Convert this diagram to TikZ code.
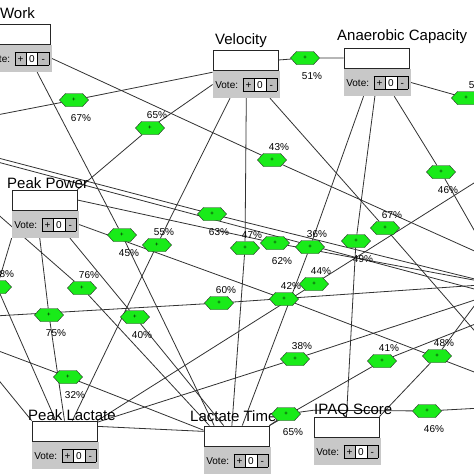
\documentclass[tikz,border=0pt]{standalone}
\usepackage{fontspec}
\setmainfont{Liberation Sans}
\usepackage{tikz}
\usetikzlibrary{positioning, shapes.symbols, backgrounds}
\definecolor{panelgray}{RGB}{200, 200, 200}
\definecolor{btngray}{RGB}{188, 188, 188}
\definecolor{votegreen}{RGB}{25, 235, 25}
\definecolor{linkgray}{RGB}{50, 50, 50}
\newcommand{\vbtn}[2]{\fcolorbox{black}{#1}{\makebox[11pt]{\rule[-2.5pt]{0pt}{12pt}#2}}}
\newcommand{\votebtns}{{\setlength{\fboxsep}{0pt}\vbtn{btngray}{+}\kern-0.4pt\vbtn{white}{0}\kern-0.4pt\vbtn{btngray}{-}}}

\begin{document}
\begin{tikzpicture}[
    x=1pt, y=-1pt,
    card/.style={draw=black!85, fill=white, line width=0.8pt,
                 minimum width=65pt, minimum height=20pt, inner sep=0pt},
    votebar/.style={fill=panelgray, anchor=north west, yshift=-0.4pt,
                    minimum width=67pt, minimum height=27pt, inner xsep=2.5pt, inner ysep=0pt,
                    text width=62pt, font=\fontsize{10}{12}\selectfont},
    ctitle/.style={anchor=base west, inner sep=0pt, font=\fontsize{15}{18}\selectfont},
    vmark/.style={shape=signal, signal to=east and west, signal pointer angle=95,
                  draw=black!85, fill=votegreen, minimum width=29pt, minimum height=13pt,
                  inner xsep=6pt, inner ysep=0pt, font=\fontsize{6}{6}\selectfont},
    every label/.style={inner sep=1pt, font=\fontsize{10}{12}\selectfont},
    pctdn/.style={label={[label distance=7pt, xshift=7pt]below:#1}},
    pctup/.style={label={[label distance=2pt, xshift=7pt]above:#1}},
    link/.style={draw=linkgray, line width=0.8pt}
  ]
  \useasboundingbox (0,0) rectangle (474,474);

  % claims
  \node[card] (work) at (17.5,34) {};
  \node[votebar] (work-v) at (work.south west) {Vote:\hfill\votebtns};
  \node[ctitle, anchor=base east] (work-t) at (35,18) {Work};

  \node[card] (velo) at (245.5,60) {};
  \node[votebar] (velo-v) at (velo.south west) {Vote:\hfill\votebtns};
  \node[ctitle] (velo-t) at (215,44) {Velocity};

  \node[card] (anae) at (376.5,58) {};
  \node[votebar] (anae-v) at (anae.south west) {Vote:\hfill\votebtns};
  \node[ctitle] (anae-t) at (337,40) {Anaerobic Capacity};

  \node[card] (ppow) at (44.5,200) {};
  \node[votebar] (ppow-v) at (ppow.south west) {Vote:\hfill\votebtns};
  \node[ctitle] (ppow-t) at (7,188) {Peak Power};

  \node[card] (plac) at (64.5,431) {};
  \node[votebar] (plac-v) at (plac.south west) {Vote:\hfill\votebtns};
  \node[ctitle] (plac-t) at (28,420) {Peak Lactate};

  \node[card] (ltim) at (236.5,436) {};
  \node[votebar] (ltim-v) at (ltim.south west) {Vote:\hfill\votebtns};
  \node[ctitle] (ltim-t) at (190,421) {Lactate Time};

  \node[card] (ipaq) at (346.5,427) {};
  \node[votebar] (ipaq-v) at (ipaq.south west) {Vote:\hfill\votebtns};
  \node[ctitle] (ipaq-t) at (314,414) {IPAQ Score};

  % vote markers
  \node[vmark, pctdn=67\%] (p67a) at (74,100) {+};
  \node[vmark, pctup=65\%] (p65a) at (150,128) {+};
  \node[vmark, pctdn=51\%] (p51) at (305,58) {+};
  \node[vmark, label={[label distance=2pt, xshift=13pt]above:54\%}] (p5x) at (466,98) {+};
  \node[vmark, pctup=43\%] (p43) at (272,160) {+};
  \node[vmark, pctdn=46\%] (p46a) at (441,172) {+};
  \node[vmark, pctdn=45\%] (p45) at (122,235) {+};
  \node[vmark, pctup=55\%] (p55) at (157,245) {+};
  \node[vmark, pctdn=63\%] (p63) at (212,214) {+};
  \node[vmark, pctup=47\%] (p47) at (245,248) {+};
  \node[vmark, pctdn=62\%] (p62) at (275,243) {+};
  \node[vmark, pctup=36\%] (p36) at (310,247) {+};
  \node[vmark, pctdn=49\%] (p49) at (356,241) {+};
  \node[vmark, pctup=67\%] (p67b) at (385,228) {+};
  \node[vmark, pctup=44\%] (p44) at (314,284) {+};
  \node[vmark, pctup=42\%] (p42) at (284,299) {+};
  \node[vmark, pctup=60\%] (p60) at (219,303) {+};
  \node[vmark, pctup=38\%] (p38l) at (-3,287) {+};
  \node[vmark, pctup=76\%] (p76) at (82,288) {+};
  \node[vmark, pctdn=75\%] (p75) at (49,315) {+};
  \node[vmark, pctdn=40\%] (p40) at (135,317) {+};
  \node[vmark, pctdn=32\%] (p32) at (68,377) {+};
  \node[vmark, pctup=38\%] (p38) at (295,359) {+};
  \node[vmark, pctup=41\%] (p41) at (382,361) {+};
  \node[vmark, pctup=48\%] (p48) at (437,356) {+};
  \node[vmark, pctdn=65\%] (p65b) at (286,414) {+};
  \node[vmark, pctdn=46\%] (p46b) at (427,411) {+};

  % claims outside the view
  \coordinate (hla) at (-65,127);
  \coordinate (hlb) at (-40,148);
  \coordinate (hlc) at (-40,152);
  \coordinate (hld) at (-40,318);
  \coordinate (hle) at (-68,326);
  \coordinate (hlf) at (-30,190);
  \coordinate (hlg) at (-30,345);
  \coordinate (hra) at (520,116);
  \coordinate (hrb) at (490,258);
  \coordinate (hrc) at (495,284);
  \coordinate (hrd) at (493,294);
  \coordinate (hrj) at (486,290);
  \coordinate (hrg) at (498,315);
  \coordinate (hre) at (500,360);
  \coordinate (hrf) at (495,380);
  \coordinate (hrh) at (531,147);
  \coordinate (hri) at (500,407);

  \begin{scope}[on background layer]
    \fill[white] (0,0) rectangle (474,474);
    \draw[link] (hla) -- (p67a) -- (velo-v.160);
    \draw[link] (velo-v.west) -- (p65a) -- (ppow.north east);
    \draw[link] (velo.east) -- (p51) -- (anae.west);
    \draw[link] (anae-v.east) -- (p5x) -- (hra);
    \draw[link] (work-v.east) -- (p43) -- (hrb);
    \draw[link] (anae-v.-39) -- (p46a) -- (hrb);
    \draw[link] (work-v.-36) -- (p45) -- (ltim.155);
    \draw[link] (velo-v.-140) -- (p55) -- (plac.53);
    \draw[link] (hlb) -- (p63) -- (hrc);
    \draw[link] (velo-v.south) -- (p47) -- (ltim.114);
    \draw[link] (ppow.east) -- (p62) -- (hrc);
    \draw[link] (anae-v.-135) -- (p36) -- (ltim.61);
    \draw[link] (anae-v.-100) -- (p49) -- (ipaq.north);
    \draw[link] (velo-v.-30) -- (p67b) -- (hre);
    \draw[link] (plac.north east) -- (p44) -- (hrh);
    \draw[link] (ppow-v.east) -- (p42) -- (hrf);
    \draw[link] (hld) -- (p60) -- (hrc);
    \draw[link] (hlf) -- (p76) -- (ltim.159);
    \draw[link] (ppow-v.-112) -- (p75) -- (plac.north);
    \draw[link] (ppow-v.-29) -- (p40) -- (ltim.141);
    \draw[link] (hle) -- (p32) -- (ltim.170);
    \draw[link] (ppow-v.south west) -- (p38l) -- (plac.130);
    \draw[link] (plac.15) -- (p38) -- (hrd);
    \draw[link] (ltim.north east) -- (p41) -- (hrg);
    \draw[link] (ipaq.north east) -- (p48) -- (hrj);
    \draw[link] (ltim.north east) -- (p65b) -- (ipaq-t.west);
    \draw[link] (ipaq-t.west) -- (p46b) -- (hri);
    \draw[link] (plac.8) -- (ltim.172);
    \draw[link] (hlg) -- (plac.north west);
    \draw[link] (hlc) -- (hrd);
  \end{scope}
\end{tikzpicture}
\end{document}
